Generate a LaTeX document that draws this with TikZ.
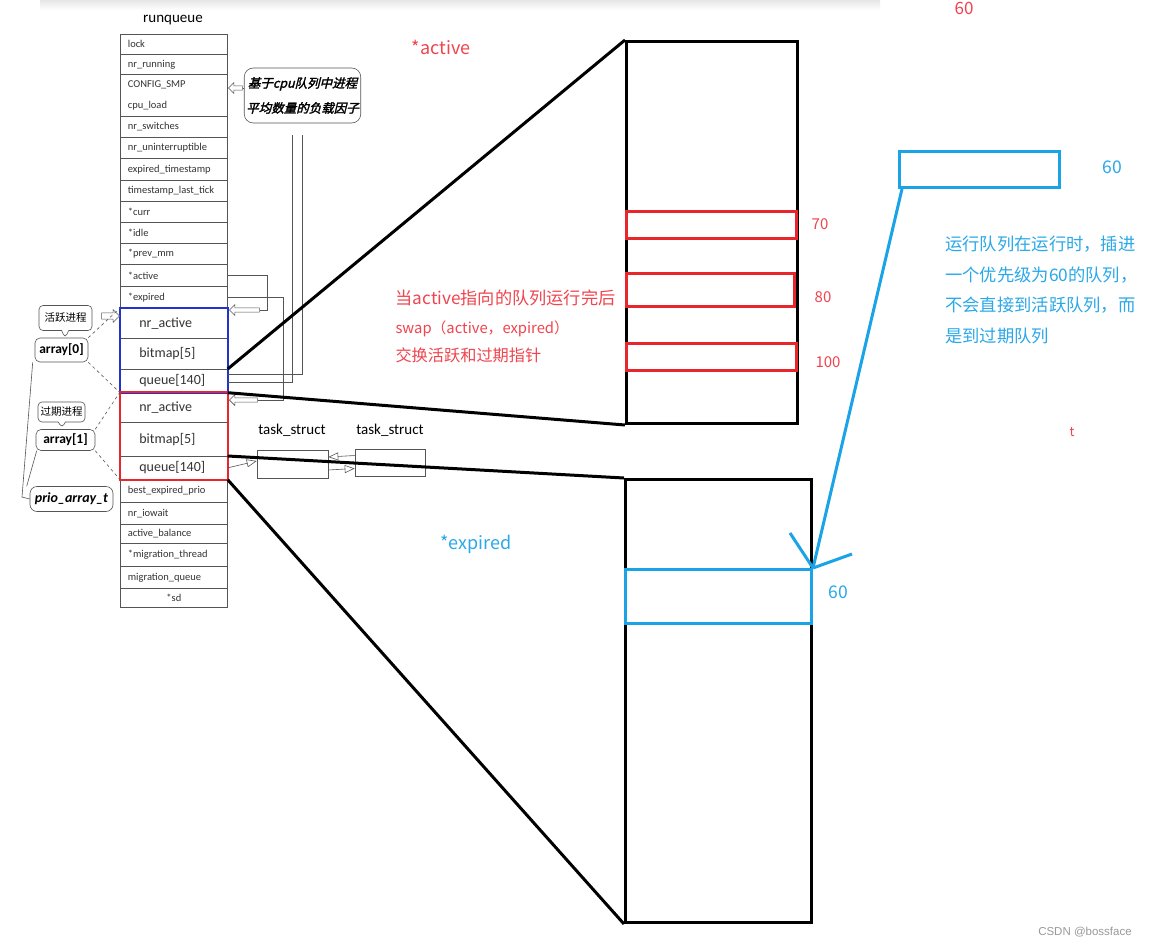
\documentclass[tikz,border=0pt]{standalone}
\usepackage{fontspec}
\setmainfont{Liberation Sans}
\newfontfamily\cjk{Noto Sans CJK SC}
\newfontfamily\cjkbi[FakeSlant=0.25,FakeBold=2]{Noto Sans CJK SC}
\newfontfamily\tabf{Carlito}
\usetikzlibrary{shapes.arrows,shapes.callouts,arrows.meta,calc}
\definecolor{rred}{HTML}{E8262C}
\definecolor{tred}{HTML}{F0444E}
\definecolor{bblue}{HTML}{1AA3E6}
\definecolor{tblue}{HTML}{2AA8E8}
\definecolor{nblue}{HTML}{2233CC}
\definecolor{lgray}{HTML}{555555}
\newcommand\rqrow[5]{\node[#1,minimum height=#4pt] (#2) at (120,#3) {#5};}
\tikzset{
  rowbox/.style={draw=lgray, line width=0.7pt, anchor=north west, minimum width=107pt,
    text width=92pt, inner xsep=7.5pt, inner ysep=0pt, align=left,
    font=\tabf\fontsize{10.5}{12}\selectfont, text=black!80},
  bigrow/.style={rowbox, inner xsep=19pt, text width=69pt, font=\tabf\fontsize{14}{16}\selectfont},
  conn/.style={draw=lgray, line width=0.6pt},
  harrow/.style={single arrow, draw=lgray, line width=0.6pt, fill=white, inner sep=1.5pt,
    minimum width=11pt, single arrow head extend=3pt, single arrow head indent=0pt},
  hollowtip/.style={-{Triangle[open,length=10pt,width=8pt]}},
  bubble/.style={draw=lgray, line width=0.6pt, rounded corners=5pt, inner sep=2pt},
  slot/.style={draw, anchor=north west, inner sep=0pt},
  cjkt/.style={font=\cjk\fontsize{#1}{#1}\selectfont},
}
\begin{document}
\begin{tikzpicture}[x=1pt,y=-1pt]
\useasboundingbox (0,0) rectangle (1153,947);
\fill[white] (0,0) rectangle (1153,947);
\shade[top color=gray!20, bottom color=white] (40,0) rectangle (880,10);

% ---------- runqueue table ----------
\node[font=\tabf\fontsize{15}{17}\selectfont] (title) at (173,20) {runqueue};
\rqrow{rowbox}{r-lock}{34}{20}{lock}
\rqrow{rowbox}{r-nrr}{54}{20}{nr\_running}
\rqrow{rowbox}{r-cfg}{74}{42}{CONFIG\_SMP\\[9pt]cpu\_load}
\rqrow{rowbox}{r-sw}{116}{21}{nr\_switches}
\rqrow{rowbox}{r-unint}{137}{21}{nr\_uninterruptible}
\rqrow{rowbox}{r-exts}{158}{22}{expired\_timestamp}
\rqrow{rowbox}{r-tslt}{180}{21}{timestamp\_last\_tick}
\rqrow{rowbox}{r-curr}{201}{21}{*curr}
\rqrow{rowbox}{r-idle}{222}{21}{*idle}
\rqrow{rowbox}{r-prev}{243}{21}{*prev\_mm}
\rqrow{rowbox}{r-active}{264}{22}{*active}
\rqrow{rowbox}{r-expired}{286}{22}{*expired}
\rqrow{bigrow}{b-nr}{308}{30}{nr\_active}
\rqrow{bigrow}{b-bm}{338}{31}{bitmap[5]}
\rqrow{bigrow}{b-q}{369}{23}{queue[140]}
\rqrow{bigrow}{e-nr}{392}{30}{nr\_active}
\rqrow{bigrow}{e-bm}{422}{34}{bitmap[5]}
\rqrow{bigrow}{e-q}{456}{23}{queue[140]}
\rqrow{rowbox}{r-best}{479}{23}{best\_expired\_prio}
\rqrow{rowbox}{r-iow}{502}{22}{nr\_iowait}
\rqrow{rowbox}{r-abal}{524}{19}{active\_balance}
\rqrow{rowbox}{r-mth}{543}{23}{*migration\_thread}
\rqrow{rowbox}{r-mq}{566}{22}{migration\_queue}
\node[rowbox, minimum height=19pt, align=center] (r-sd) at (120,588) {*sd};
\draw[nblue, line width=1.8pt] (b-nr.north west) rectangle (b-q.south east);
\draw[rred, line width=1.8pt] (e-nr.north west) rectangle (e-q.south east);

% ---------- callout about cpu_load ----------
\node[bubble, rounded corners=9pt, minimum width=115pt, minimum height=55pt, align=center,
  font=\cjkbi\fontsize{12.5}{25}\selectfont] (cb) at (302.5,95.5) {基于cpu队列中进程\\平均数量的负载因子};
\node[harrow, shape border rotate=180, minimum height=14pt, anchor=tip] (cbarrow) at (228,88) {};
\draw[conn] (cbarrow.tail) -- (cbarrow.tail -| cb.west);

% vertical double lines
\coordinate (v1t) at (292,135);
\coordinate (v1b) at (292,382);
\coordinate (v2t) at (302,135);
\coordinate (v2b) at (302,374);
\draw[conn] (v1t) -- (v1b) -- (v1b -| b-q.east);
\draw[conn] (v2t) -- (v2b) -- (v2b -| b-q.east);

% *active / *expired pointers
\node[harrow, shape border rotate=180, minimum height=30pt, anchor=tip] (aA) at (229,310) {};
\draw[conn] (r-active.east) -- ++(40,0) |- (aA.tail);
\node[harrow, shape border rotate=180, minimum height=28pt, anchor=tip] (aE) at (229,400) {};
\draw[conn] (r-expired.east) -- ++(56,0) |- (aE.tail);

% ---------- left annotations ----------
\node[rectangle callout, bubble, rounded corners=4pt, minimum width=53pt, minimum height=25pt,
  callout absolute pointer={(65,338)}, cjkt=10.5] (lbA) at (65.5,318) {活跃进程};
\node[harrow, minimum height=18pt, minimum width=13pt, inner sep=2.5pt] (aAct) at (109,316) {};
\node[bubble, minimum width=53pt, minimum height=24pt, font=\tabf\bfseries\fontsize{13.5}{15}\selectfont] (a0) at (61.5,350) {array[0]};
\node[rectangle callout, bubble, rounded corners=4pt, minimum width=47pt, minimum height=20pt,
  callout absolute pointer={(62,428)}, cjkt=10.5] (lbE) at (61.5,412) {过期进程};
\node[bubble, minimum width=59pt, minimum height=21pt, font=\tabf\bfseries\fontsize{13.5}{15}\selectfont] (a1) at (65.5,440) {array[1]};
\node[bubble, rounded corners=7pt, minimum width=83pt, minimum height=25pt, font=\tabf\bfseries\itshape\fontsize{14}{16}\selectfont] (pa) at (71.5,499) {prio\_array\_t};
\draw[conn, dashed] (a0.north east) -- (b-nr.north west);
\draw[conn, dashed] (a0.south east) -- (b-q.south west);
\draw[conn, dashed] (a1.north east) -- (e-nr.north west);
\draw[conn, dashed] (a1.south east) -- (e-q.south west);
\coordinate (pk) at (22,497);
\draw[conn] ([xshift=-2pt]a0.south west) -- (pk) -- (pa.west);
\draw[conn] ([xshift=1pt]a1.south west) -- ([xshift=-3pt]pa.north west);

% ---------- task_struct ----------
\node[font=\tabf\fontsize{15}{17}\selectfont] (t1l) at (292,430) {task\_struct};
\node[font=\tabf\fontsize{15}{17}\selectfont] (t2l) at (390,430) {task\_struct};
\node[draw=lgray, line width=0.6pt, minimum width=71pt, minimum height=28pt, inner sep=0pt] (t1) at (292.5,464) {};
\node[draw=lgray, line width=0.6pt, minimum width=70pt, minimum height=27pt, inner sep=0pt] (t2) at (390,462.5) {};
\draw[conn, hollowtip] (e-q.east) -- ([yshift=3pt]t1.west);
\draw[conn, hollowtip] ([yshift=7pt]t2.west) -- ([yshift=7pt]t1.east);
\draw[conn, hollowtip] ([yshift=-6pt]t1.east) -- ([yshift=-6pt]t2.west);

% ---------- active / expired queues ----------
\node[slot, draw=black, line width=3pt, minimum width=171pt, minimum height=382pt] (act) at (625,40) {};
\node[slot, draw=black, line width=3pt, minimum width=186pt, minimum height=443pt] (exq) at (624,478) {};
\node[slot, draw=rred, line width=2.6pt, minimum width=170pt, minimum height=27pt] (s70) at (625,210) {};
\node[slot, draw=rred, line width=2.6pt, minimum width=168pt, minimum height=33pt] (s80) at (625,272) {};
\node[slot, draw=rred, line width=2.6pt, minimum width=170pt, minimum height=27pt] (s100) at (625,342) {};
\node[slot, draw=bblue, line width=3pt, minimum width=186pt, minimum height=54pt] (s60) at (624,568) {};
\draw[black, line width=3pt] (b-q.north east) -- (act.north west);
\draw[black, line width=3pt] (b-q.south east) -- (act.south west);
\draw[black, line width=3pt] (e-q.north east) -- (exq.north west);
\draw[black, line width=3pt] (e-q.south east) -- (exq.south west);

\node[cjkt=15, text=tred] (l70) at (820,224) {70};
\node[cjkt=15, text=tred] (l80) at (823,297) {80};
\node[cjkt=15, text=tred] (l100) at (828,362) {100};
\node[cjkt=17.5, text=tblue] (l60b) at (838,592) {60};

% ---------- new priority 60 ----------
\node[slot, draw=bblue, line width=3pt, minimum width=160pt, minimum height=36pt] (nb) at (898,150) {};
\node[cjkt=17.5, text=tblue] (l60a) at (1112,167) {60};
\draw[bblue, line width=3pt] ([xshift=4pt]nb.south west) -- (s60.north east);
\draw[bblue, line width=3pt] (s60.north east) -- ++(-23,-35);
\draw[bblue, line width=3pt] (s60.north east) -- ++(39,-14);

% ---------- texts ----------
\node[cjkt=18, text=tred] (tact) at (441,47) {*active};
\node[cjkt=18, text=tblue] (texp) at (476,544) {*expired};
\node[cjkt=17.2, text=tred, anchor=west] (rt1) at (392,298) {当active指向的队列运行完后};
\node[cjkt=14.8, text=tred, anchor=west] (rt2) at (392,329) {swap（active，expired）};
\node[cjkt=16.2, text=tred, anchor=west] (rt3) at (392,355) {交换活跃和过期指针};
\node[anchor=north west, align=left, inner sep=0pt, text=tblue,
  font=\cjk\fontsize{17.3}{30.5}\selectfont] (bt) at (945,236)
  {运行队列在运行时，插进\\一个优先级为60的队列，\\不会直接到活跃队列，而\\是到过期队列};
\node[cjkt=17, text=tred] (top60) at (964,8) {60};
\node[cjkt=13, text=tred] (tt) at (1072,432) {t};
\node[font=\fontsize{11.5}{13}\selectfont, text=gray!80] (csdn) at (1085,932) {CSDN @bossface};
\end{tikzpicture}
\end{document}
